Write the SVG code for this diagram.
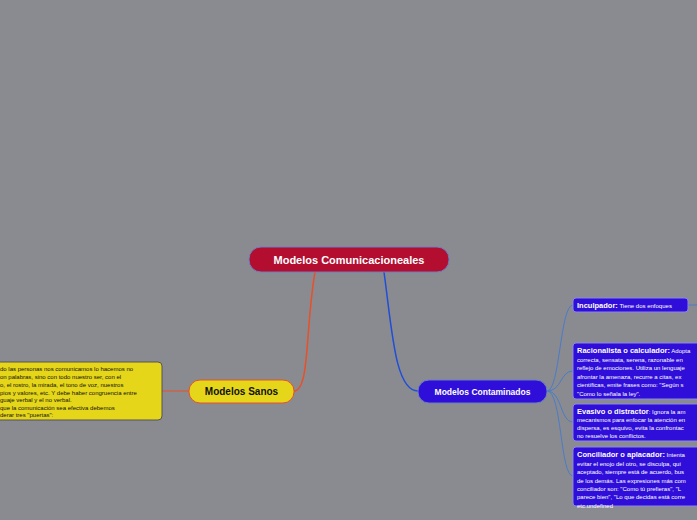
<svg xmlns="http://www.w3.org/2000/svg" width="697" height="520" viewBox="0 0 697 520">
<style>
text{font-family:"Liberation Sans",Arial,sans-serif}
.b{fill:#2f0ed9;stroke:#8a86e8;stroke-width:1}
.t{fill:#fff;font-size:6px}
.h{font-weight:bold;font-size:7.5px}
.y{fill:#111;font-size:6px}
</style>
<rect width="697" height="520" fill="#8a8b90"/>
<g id="connectors" fill="none">
<path d="M315,272 C305,330 310,390 294,391" stroke="#e8502a" stroke-width="1.5"/>
<path d="M384,272 C392,330 395,391 418,391" stroke="#1f4ed8" stroke-width="1.5"/>
<path d="M189,391 L162,391" stroke="#e8502a" stroke-width="1"/>
<g stroke="#4a7bc8" stroke-width="1">
<path d="M547,391 C560,391 560,305 573,305"/>
<path d="M547,391 C562,391 560,371 573,371"/>
<path d="M547,391 C562,391 560,422 573,422"/>
<path d="M547,391 C562,391 560,476 573,476"/>
<path d="M688,305 L697,305"/>
</g>
</g>
<g id="center">
<rect x="249" y="247" width="200" height="25" rx="12" fill="#b30d2f" stroke="#6a7fc0"/>
<text x="349" y="264" text-anchor="middle" fill="#fff" font-size="11" font-weight="bold">Modelos Comunicacioneales</text>
</g>
<g id="sanos">
<rect x="189" y="380" width="105" height="23" rx="11" fill="#e6d619" stroke="#e8502a"/>
<text x="241.5" y="395" text-anchor="middle" fill="#111" font-size="10" font-weight="bold">Modelos Sanos</text>
</g>
<g id="nota">
<rect x="-10" y="362" width="172" height="58" rx="4" fill="#e6d619" stroke="#555"/>
<text class="y" x="0" y="371">do las personas nos comunicamos lo hacemos no</text>
<text class="y" x="0" y="379">on palabras, sino con todo nuestro ser, con el</text>
<text class="y" x="0" y="387">o, el rostro, la mirada, el tono de voz, nuestros</text>
<text class="y" x="0" y="395">pios y valores, etc. Y debe haber congruencia entre</text>
<text class="y" x="0" y="402">guaje verbal y el no verbal.</text>
<text class="y" x="0" y="410">que la comunicación sea efectiva debemos</text>
<text class="y" x="0" y="417">derar tres "puertas":</text>
</g>
<g id="contaminados">
<rect x="418" y="380" width="129" height="23" rx="11" fill="#2f0ed9" stroke="#6a7fc0"/>
<text x="482.5" y="395" text-anchor="middle" fill="#fff" font-size="8.5" font-weight="bold">Modelos Contaminados</text>
</g>
<g id="inculpador">
<rect class="b" x="573" y="298" width="115" height="14" rx="3"/>
<text class="t" x="577" y="308"><tspan class="h">Inculpador:</tspan> Tiene dos enfoques</text>
</g>
<g id="racionalista">
<rect class="b" x="573" y="343" width="130" height="56" rx="3"/>
<text class="t" x="577" y="353"><tspan class="h">Racionalista o calculador:</tspan> Adopta</text>
<text class="t" x="577" y="362">correcta, sensata, serena, razonable en</text>
<text class="t" x="577" y="370">reflejo de emociones. Utiliza un lenguaje</text>
<text class="t" x="577" y="379">afrontar la amenaza, recurre a citas, ex</text>
<text class="t" x="577" y="387">científicas, emite frases como: "Según s</text>
<text class="t" x="577" y="396">"Como lo señala la ley".</text>
</g>
<g id="evasivo">
<rect class="b" x="573" y="404" width="130" height="37" rx="3"/>
<text class="t" x="577" y="414"><tspan class="h">Evasivo o distractor</tspan>: Ignora la am</text>
<text class="t" x="577" y="422">mecanismos para enfocar la atención en</text>
<text class="t" x="577" y="430">dispersa, es esquivo, evita la confrontac</text>
<text class="t" x="577" y="438">no resuelve los conflictos.</text>
</g>
<g id="conciliador">
<rect class="b" x="573" y="447" width="130" height="59" rx="3"/>
<text class="t" x="577" y="457"><tspan class="h">Conciliador o aplacador:</tspan> Intenta</text>
<text class="t" x="577" y="466">evitar el enojo del otro, se disculpa, qui</text>
<text class="t" x="577" y="474">aceptado, siempre está de acuerdo, bus</text>
<text class="t" x="577" y="483">de los demás. Las expresiones más com</text>
<text class="t" x="577" y="491">conciliador son: "Como tú prefieras", "L</text>
<text class="t" x="577" y="499">parece bien", "Lo que decidas está corre</text>
<text class="t" x="577" y="503" dy="5">etc.undefined</text>
</g>
</svg>
